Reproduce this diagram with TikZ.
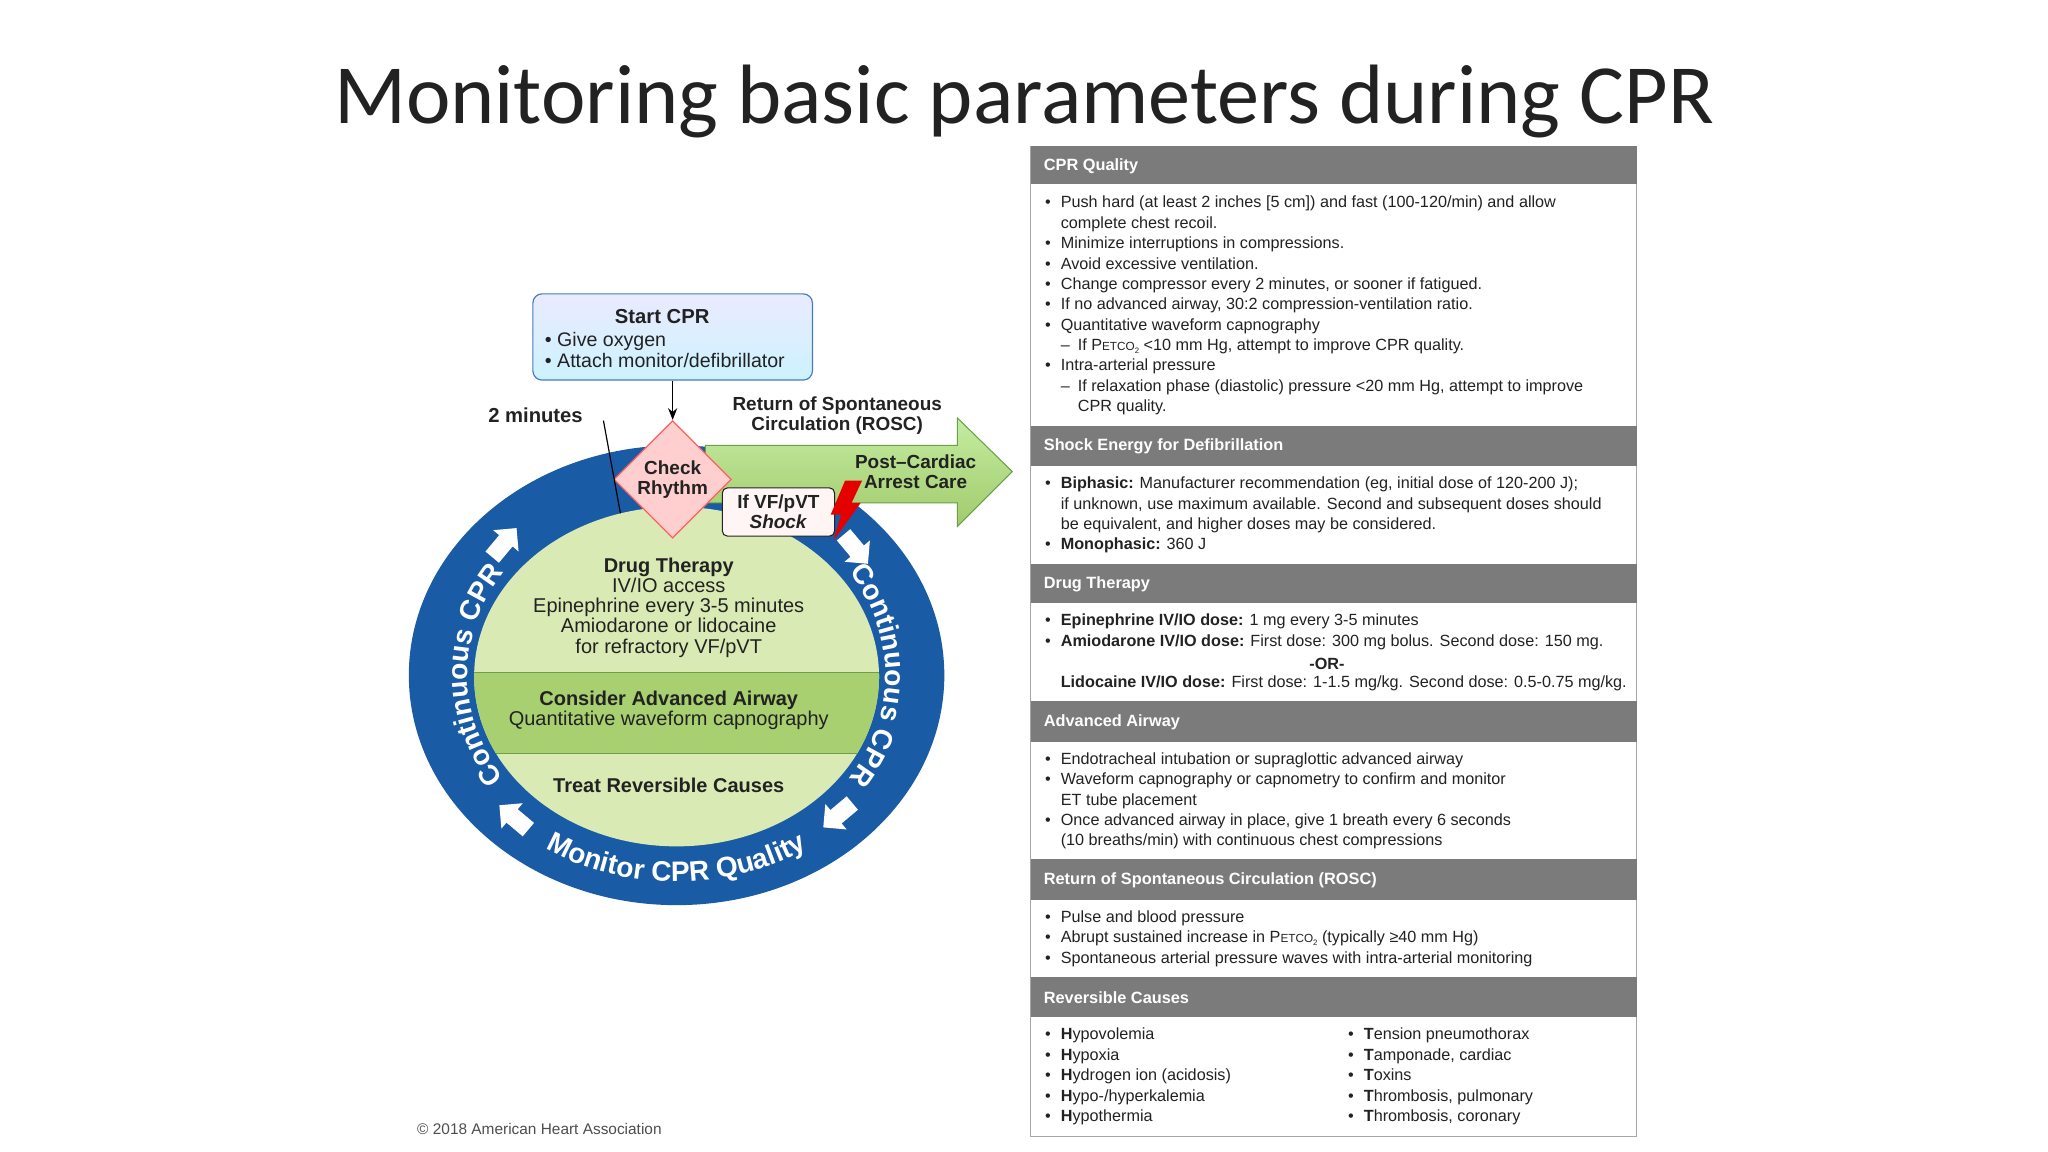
\documentclass[tikz,border=0pt]{standalone}
\usepackage{fontspec}
\setmainfont{Liberation Sans}
\newfontfamily\titlefont{Carlito}
\usetikzlibrary{arrows.meta,shapes.geometric,shapes.arrows,decorations.text}
\definecolor{ringblue}{HTML}{1A5BA6}
\definecolor{lgreen}{HTML}{D9EAB4}
\definecolor{mgreen}{HTML}{A8CF70}
\definecolor{dgreen}{HTML}{6E9E45}
\definecolor{hdrgray}{HTML}{7B7B7B}
\definecolor{txt}{HTML}{222222}
\newcommand\bul{\makebox[12pt][l]{\textbullet}}
\newcommand\ind{\hspace*{12pt}}
\newcommand\dsh{\hspace*{12pt}\makebox[13pt][l]{–}}
\newcommand\petco{P{\fontsize{9}{9}\selectfont ETCO}\raisebox{-2pt}{\fontsize{6}{6}\selectfont 2}}
\newcommand\ringfont{\bfseries\fontsize{21.5}{21.5}\selectfont}
\tikzset{
  x=1pt,y=-1pt,
  hdr/.style={fill=hdrgray,draw=none},
  hdrtext/.style={anchor=west,text=white,font=\bfseries\fontsize{12.5}{12.5}\selectfont,inner sep=0},
  body/.style={anchor=north west,inner sep=0,align=left,text=txt,font=\fontsize{12.4}{15.6}\selectfont},
  dtext/.style={align=center,text=txt,font=\fontsize{15.3}{15.5}\selectfont,inner sep=0},
  blockarr/.style={single arrow,fill=white,minimum height=29pt,single arrow head extend=6pt,inner sep=0pt},
}
\begin{document}
\begin{tikzpicture}
\useasboundingbox[fill=white] (0,0) rectangle (1568,882);
\node[font=\titlefont\fontsize{64.5}{64.5}\selectfont,text=txt] (title) at (784,78) {Monitoring basic parameters during CPR};

% ---------------- table
\path[fill=white,draw=gray!70] (789,112) rectangle (1253,870);
\foreach \a/\b in {112/141,326/357,432/462,537/568,658/689,748/779}{
  \path[hdr] (789,\a) rectangle (1253,\b);
}
\node[hdrtext] (h1) at (799,127) {CPR Quality};
\node[hdrtext] (h2) at (799,342) {Shock Energy for Defibrillation};
\node[hdrtext] (h3) at (799,447) {Drug Therapy};
\node[hdrtext] (h4) at (799,553) {Advanced Airway};
\node[hdrtext] (h5) at (799,674) {Return of Spontaneous Circulation (ROSC)};
\node[hdrtext] (h6) at (799,764) {Reversible Causes};

\node[body] (b1) at (800,150) {\bul Push hard (at least 2 inches [5 cm]) and fast (100-120/min) and allow\\
\ind complete chest recoil.\\
\bul Minimize interruptions in compressions.\\
\bul Avoid excessive ventilation.\\
\bul Change compressor every 2 minutes, or sooner if fatigued.\\
\bul If no advanced airway, 30:2 compression-ventilation ratio.\\
\bul Quantitative waveform capnography\\
\dsh If \petco{} <10 mm Hg, attempt to improve CPR quality.\\
\bul Intra-arterial pressure\\
\dsh If relaxation phase (diastolic) pressure <20 mm Hg, attempt to improve\\
\hspace*{25pt}CPR quality.};

\node[body] (b2) at (800,365) {\bul \textbf{Biphasic:} Manufacturer recommendation (eg, initial dose of 120-200 J);\\
\ind if unknown, use maximum available. Second and subsequent doses should\\
\ind be equivalent, and higher doses may be considered.\\
\bul \textbf{Monophasic:} 360 J};

\node[body] (b3) at (800,470) {\bul \textbf{Epinephrine IV/IO dose:} 1 mg every 3-5 minutes\\
\bul \textbf{Amiodarone IV/IO dose:} First dose: 300 mg bolus. Second dose: 150 mg.\\
\mbox{}\\
\ind \textbf{Lidocaine IV/IO dose:} First dose: 1-1.5 mg/kg. Second dose: 0.5-0.75 mg/kg.};
\node[font=\bfseries\fontsize{12.4}{12.4}\selectfont,text=txt,inner sep=0] (or) at (1016,508) {-OR-};

\node[body] (b4) at (800,576) {\bul Endotracheal intubation or supraglottic advanced airway\\
\bul Waveform capnography or capnometry to confirm and monitor\\
\ind ET tube placement\\
\bul Once advanced airway in place, give 1 breath every 6 seconds\\
\ind (10 breaths/min) with continuous chest compressions};

\node[body] (b5) at (800,697) {\bul Pulse and blood pressure\\
\bul Abrupt sustained increase in \petco{} (typically ≥40 mm Hg)\\
\bul Spontaneous arterial pressure waves with intra-arterial monitoring};

\node[body] (b6) at (800,787) {\bul \textbf{H}ypovolemia\\
\bul \textbf{H}ypoxia\\
\bul \textbf{H}ydrogen ion (acidosis)\\
\bul \textbf{H}ypo-/hyperkalemia\\
\bul \textbf{H}ypothermia};
\node[body] (b7) at (1032,787) {\bul \textbf{T}ension pneumothorax\\
\bul \textbf{T}amponade, cardiac\\
\bul \textbf{T}oxins\\
\bul \textbf{T}hrombosis, pulmonary\\
\bul \textbf{T}hrombosis, coronary};

% ---------------- ring
\fill[ringblue] (518,517) ellipse[x radius=205,y radius=176];
\fill[lgreen] (518,518) ellipse[x radius=155,y radius=130];
\begin{scope}
  \clip (518,518) ellipse[x radius=155,y radius=130];
  \fill[mgreen] (350,515) rectangle (690,577);
  \draw[dgreen,line width=0.8pt] (350,515) -- (690,515) (350,577) -- (690,577);
\end{scope}

\node[dtext] (drug) at (512,465) {\textbf{Drug Therapy}\\IV/IO access\\Epinephrine every 3-5 minutes\\Amiodarone or lidocaine\\for refractory VF/pVT};
\node[dtext] (airway) at (512,544) {\textbf{Consider Advanced Airway}\\Quantitative waveform capnography};
\node[dtext] (causes) at (512,601) {\textbf{Treat Reversible Causes}};

\begin{scope}[shift={(518,517)},yscale=-1]
  \path[decorate,decoration={text along path,text align=center,text color=white,text={|\ringfont|Continuous CPR}}]
    (220:160 and 140) arc[start angle=220,end angle=140,x radius=160,y radius=140];
  \path[decorate,decoration={text along path,text align=center,text color=white,text={|\ringfont|Continuous CPR}}]
    (40:160 and 140) arc[start angle=40,end angle=-40,x radius=160,y radius=140];
  \path[decorate,decoration={text along path,text align=center,text color=white,text={|\ringfont|Monitor CPR Quality}}]
    (228:185 and 158) arc[start angle=228,end angle=312,x radius=185,y radius=158];
\end{scope}

\node[blockarr,rotate=50] (ar1) at (384,418) {\rule{0pt}{13pt}};
\node[blockarr,rotate=-50] (ar2) at (653,418) {\rule{0pt}{13pt}};
\node[blockarr,rotate=-140] (ar3) at (644,622) {\rule{0pt}{13pt}};
\node[blockarr,rotate=140] (ar4) at (396,628) {\rule{0pt}{13pt}};

% ---------------- ROSC arrow
\path[draw=dgreen,line width=0.8pt,top color=green!10!lgreen,bottom color=mgreen!90!dgreen]
  (540,341) -- (733,341) -- (733,320) -- (775,361) -- (733,403) -- (733,385) -- (540,385) -- cycle;
\node[font=\bfseries\fontsize{14.5}{15.5}\selectfont,align=center,text=txt,inner sep=0] (post) at (701,361) {Post–Cardiac\\Arrest Care};
\node[font=\bfseries\fontsize{14.5}{15.5}\selectfont,align=center,text=txt,inner sep=0] (rosc) at (641,318) {Return of Spontaneous\\Circulation (ROSC)};

% ---------------- start / check
\node[draw=ringblue!80,line width=0.9pt,rounded corners=7pt,top color=blue!8,bottom color=blue!25!cyan!20,minimum width=214pt,minimum height=66pt] (start) at (515,258) {};
\node[font=\bfseries\fontsize{15.5}{16}\selectfont,text=txt,inner sep=0] (starttitle) at (507,242) {Start CPR};
\node[font=\fontsize{15}{16.5}\selectfont,text=txt,inner sep=0,align=left,anchor=west] (startlist) at (417,268) {\textbullet\ Give oxygen\\\textbullet\ Attach monitor/defibrillator};

\node[diamond,draw=red!50!pink,line width=1pt,fill=pink!70!red!40,minimum width=90pt,minimum height=90pt,inner sep=0,font=\bfseries\fontsize{14.5}{15.5}\selectfont,align=center,text=txt] (check) at (515,367) {Check\\Rhythm};
\draw[-{Stealth[length=9pt,width=7pt]},line width=1pt] (start) -- (check.north);

\node[font=\bfseries\fontsize{15.5}{16}\selectfont,text=txt,inner sep=0] (twomin) at (410,318) {2 minutes};
\coordinate (tm1) at (462,322);
\coordinate (tm2) at (475,393);
\draw[line width=0.9pt] (tm1) -- (tm2);

\node[draw=txt,line width=0.8pt,fill=pink!15,rounded corners=4pt,minimum width=86pt,minimum height=37pt,align=center,font=\bfseries\fontsize{14.5}{15.5}\selectfont,text=txt,inner sep=0] (shock) at (596,392) {If VF/pVT\\\textit{Shock}};
\fill[red!90!black] (647,368) -- (660,368) -- (652,385) -- (659,385) -- (638,414) -- (644,394) -- (636,394) -- cycle;

\node[font=\fontsize{11.8}{12}\selectfont,text=txt!80,inner sep=0] (copy) at (413,864) {© 2018 American Heart Association};
\end{tikzpicture}
\end{document}
